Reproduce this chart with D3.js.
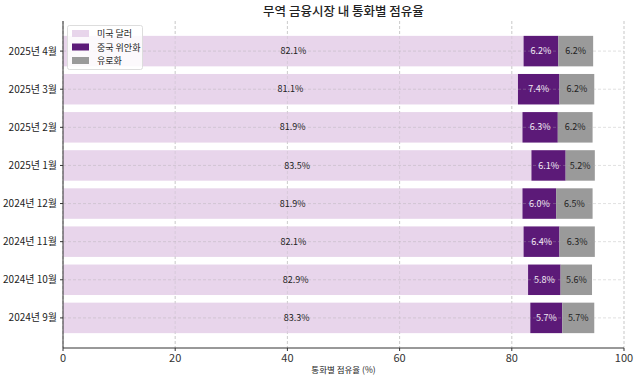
<!DOCTYPE html>
<html><head><meta charset="utf-8">
<script src="https://cdn.jsdelivr.net/npm/d3@7"></script>
<style>body{margin:0;background:#fff}svg{display:block;font-family:"Noto Sans CJK KR","Noto Sans",sans-serif}</style>
</head><body><svg id="c" width="640" height="382"></svg>
<script>
const categories = ["2025년 4월","2025년 3월","2025년 2월","2025년 1월","2024년 12월","2024년 11월","2024년 10월","2024년 9월"];
const usd = [82.1,81.1,81.9,83.5,81.9,82.1,82.9,83.3];
const cny = [6.2,7.4,6.3,6.1,6.0,6.4,5.8,5.7];
const eur = [6.2,6.2,6.2,5.2,6.5,6.3,5.6,5.7];
const seriesNames = ["미국 달러","중국 위안화","유로화"];
const xTicks = [0,20,40,60,80,100];
const colors = ["#e8d5eb","#5c1a78","#9a9a9a"];
const labelColors = ["#222","#f2eaf5","#222"];

const svg = d3.select("#c");
const L=63,R=624,T=21,B=348;
const x = d3.scaleLinear().domain([0,100]).range([L,R]);
const n = categories.length;
const y = d3.scaleLinear().domain([-0.79, n-1+0.79]).range([B,T]);
const yi = i => y(n-1-i);
const bh = y(0)-y(0.8);

const g = svg.append("g");
xTicks.forEach(t=>{
  g.append("line").attr("x1",x(t)).attr("x2",x(t)).attr("y1",T).attr("y2",B)
   .attr("stroke","#c8c8c8").attr("stroke-dasharray","3,2").attr("stroke-width",0.7);
});

const data = [usd,cny,eur];
categories.forEach((c,i)=>{
  let start=0;
  data.forEach((s,k)=>{
    const v=s[i];
    svg.append("rect").attr("x",x(start)).attr("y",yi(i)-bh/2).attr("width",x(start+v)-x(start)).attr("height",bh)
      .attr("fill",colors[k]);
    start+=v;
  });
});
categories.forEach((c,i)=>{
  svg.append("line").attr("x1",L).attr("x2",R).attr("y1",yi(i)).attr("y2",yi(i))
   .attr("stroke","#aaa").attr("stroke-opacity",0.5).attr("stroke-dasharray","3,2").attr("stroke-width",0.7);
});
xTicks.forEach(t=>{
  svg.append("line").attr("x1",x(t)).attr("x2",x(t)).attr("y1",T).attr("y2",B)
   .attr("stroke","#aaa").attr("stroke-opacity",0.35).attr("stroke-dasharray","3,2").attr("stroke-width",0.7);
});
categories.forEach((c,i)=>{
  let start=0;
  data.forEach((s,k)=>{
    const v=s[i];
    svg.append("text").attr("x",x(start+v/2)).attr("y",yi(i)).attr("dy","0.35em")
      .attr("text-anchor","middle").attr("font-size",9).attr("fill",labelColors[k]).text(v.toFixed(1)+"%");
    start+=v;
  });
});

svg.append("line").attr("x1",L).attr("x2",L).attr("y1",T).attr("y2",B).attr("stroke","#333").attr("stroke-width",1);
svg.append("line").attr("x1",L).attr("x2",R).attr("y1",B).attr("y2",B).attr("stroke","#333").attr("stroke-width",1);
xTicks.forEach(t=>{
  svg.append("line").attr("x1",x(t)).attr("x2",x(t)).attr("y1",B).attr("y2",B+3).attr("stroke","#333");
  svg.append("text").attr("x",x(t)).attr("y",B+14).attr("text-anchor","middle").attr("font-size",11).attr("fill","#333").text(t);
});
categories.forEach((c,i)=>{
  svg.append("line").attr("x1",L-3).attr("x2",L).attr("y1",yi(i)).attr("y2",yi(i)).attr("stroke","#333");
  svg.append("text").attr("x",L-6).attr("y",yi(i)).attr("dy","0.35em").attr("text-anchor","end").attr("font-size",10).attr("fill","#222").text(c);
});
svg.append("text").attr("x",(L+R)/2).attr("y",373).attr("text-anchor","middle").attr("font-size",8.5).attr("fill","#222").text("통화별 점유율 (%)");
svg.append("text").attr("x",(L+R)/2).attr("y",16).attr("text-anchor","middle").attr("font-size",12.5).attr("font-weight",500).attr("fill","#222").text("무역 금융시장 내 통화별 점유율");

const lg = svg.append("g");
lg.append("rect").attr("x",67.5).attr("y",25.5).attr("width",75).attr("height",44).attr("rx",2)
  .attr("fill","#fff").attr("fill-opacity",0.85).attr("stroke","#ddd");
seriesNames.forEach((s,k)=>{
  const yy = 34 + k*13.5;
  lg.append("rect").attr("x",72).attr("y",yy-4).attr("width",17).attr("height",7).attr("fill",colors[k]);
  lg.append("text").attr("x",97).attr("y",yy).attr("dy","0.35em").attr("font-size",9).attr("fill","#222").text(s);
});
</script></body></html>
